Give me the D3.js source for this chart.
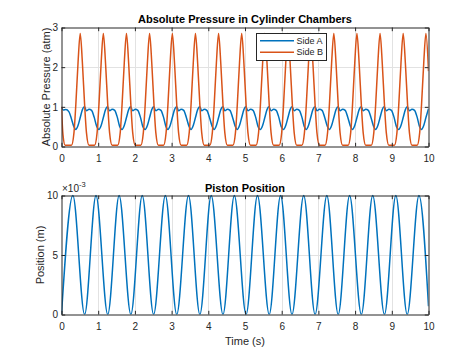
<!DOCTYPE html>
<html><head><meta charset="utf-8">
<script src="https://cdn.jsdelivr.net/npm/d3@7"></script>
<style>
body{margin:0;background:#fff}
text{font-family:"Liberation Sans",Arial,Helvetica,sans-serif}
</style>
</head><body>
<svg id="chart" width="474" height="355"></svg>
<script>
// ---------- data ----------
const timeTicks = [0,1,2,3,4,5,6,7,8,9,10];
const pressureTicks = [0,1,2,3];
const positionTicks = [0,0.005,0.01];
const positionTickLabels = ["0","5","10"];
const seriesNames = ["Side A","Side B"];
const titles = ["Absolute Pressure in Cylinder Chambers","Piston Position"];

const sideATime = [0,0.05,0.12,0.20,0.27,0.33,
0.39,0.45,0.51,0.57,0.625,0.68,0.75,0.82,0.89,0.955,
1.02,1.08,1.14,1.20,1.25,1.31,1.38,1.45,1.52,1.58,
1.65,1.71,1.77,1.83,1.88,1.94,2.01,2.08,2.15,2.21,
2.28,2.34,2.40,2.46,2.51,2.57,2.64,2.71,2.78,2.84,
2.90,2.96,3.02,3.08,3.14,3.19,3.26,3.33,3.40,3.47,
3.53,3.59,3.65,3.71,3.77,3.82,3.89,3.96,4.03,4.10,
4.16,4.22,4.28,4.34,4.40,4.45,4.52,4.59,4.66,4.73,
4.79,4.85,4.91,4.97,5.02,5.08,5.15,5.22,5.29,5.35,
5.42,5.48,5.54,5.60,5.65,5.71,5.78,5.85,5.92,5.98,
6.05,6.11,6.17,6.23,6.28,6.34,6.41,6.48,6.55,6.61,
6.67,6.73,6.79,6.85,6.91,6.96,7.03,7.10,7.17,7.24,
7.30,7.36,7.42,7.48,7.54,7.59,7.66,7.73,7.80,7.87,
7.93,7.99,8.05,8.11,8.17,8.22,8.29,8.36,8.43,8.50,
8.56,8.62,8.68,8.74,8.79,8.85,8.92,8.99,9.06,9.12,
9.19,9.25,9.31,9.37,9.42,9.48,9.55,9.62,9.69,9.75,
9.81,9.87,9.93,10.0];
const sideA = [0.98,0.92,0.93,0.88,0.70,0.52,
0.43,0.53,0.73,0.93,1.00,0.90,0.94,0.91,0.74,0.52,
0.43,0.53,0.73,0.93,1.00,0.90,0.94,0.91,0.74,0.52,
0.43,0.53,0.73,0.93,1.00,0.90,0.94,0.91,0.74,0.52,
0.43,0.53,0.73,0.93,1.00,0.90,0.94,0.91,0.74,0.52,
0.43,0.53,0.73,0.93,1.00,0.90,0.94,0.91,0.74,0.52,
0.43,0.53,0.73,0.93,1.00,0.90,0.94,0.91,0.74,0.52,
0.43,0.53,0.73,0.93,1.00,0.90,0.94,0.91,0.74,0.52,
0.43,0.53,0.73,0.93,1.00,0.90,0.94,0.91,0.74,0.52,
0.43,0.53,0.73,0.93,1.00,0.90,0.94,0.91,0.74,0.52,
0.43,0.53,0.73,0.93,1.00,0.90,0.94,0.91,0.74,0.52,
0.43,0.53,0.73,0.93,1.00,0.90,0.94,0.91,0.74,0.52,
0.43,0.53,0.73,0.93,1.00,0.90,0.94,0.91,0.74,0.52,
0.43,0.53,0.73,0.93,1.00,0.90,0.94,0.91,0.74,0.52,
0.43,0.53,0.73,0.93,1.00,0.90,0.94,0.91,0.74,0.52,
0.43,0.53,0.73,0.93,1.00,0.90,0.94,0.91,0.74,0.52,
0.43,0.53,0.73,0.95];

const sideBTime = [0,0.04,0.10,
0.27,0.34,0.39,0.45,0.51,0.57,0.63,0.68,0.75,
0.90,0.97,1.02,1.08,1.14,1.20,1.26,1.31,1.38,
1.53,1.60,1.65,1.71,1.77,1.83,1.89,1.94,2.01,
2.16,2.23,2.28,2.34,2.40,2.46,2.52,2.57,2.64,
2.78,2.85,2.90,2.96,3.02,3.08,3.14,3.19,3.26,
3.41,3.48,3.53,3.59,3.65,3.71,3.77,3.82,3.89,
4.04,4.11,4.16,4.22,4.28,4.34,4.40,4.45,4.52,
4.67,4.74,4.79,4.85,4.91,4.97,5.03,5.08,5.15,
5.30,5.37,5.42,5.48,5.54,5.60,5.66,5.71,5.78,
5.93,6.00,6.05,6.11,6.17,6.23,6.29,6.34,6.41,
6.55,6.62,6.67,6.73,6.79,6.85,6.91,6.96,7.03,
7.18,7.25,7.30,7.36,7.42,7.48,7.54,7.59,7.66,
7.81,7.88,7.93,7.99,8.05,8.11,8.17,8.22,8.29,
8.44,8.51,8.56,8.62,8.68,8.74,8.80,8.85,8.92,
9.07,9.14,9.19,9.25,9.31,9.37,9.43,9.48,9.55,
9.69,9.76,9.81,9.87,9.93,10.0];
const sideB = [1.00,0.30,0.03,
0.03,0.35,1.05,2.10,2.85,2.10,1.05,0.35,0.03,
0.03,0.35,1.05,2.10,2.85,2.10,1.05,0.35,0.03,
0.03,0.35,1.05,2.10,2.85,2.10,1.05,0.35,0.03,
0.03,0.35,1.05,2.10,2.85,2.10,1.05,0.35,0.03,
0.03,0.35,1.05,2.10,2.85,2.10,1.05,0.35,0.03,
0.03,0.35,1.05,2.10,2.85,2.10,1.05,0.35,0.03,
0.03,0.35,1.05,2.10,2.85,2.10,1.05,0.35,0.03,
0.03,0.35,1.05,2.10,2.85,2.10,1.05,0.35,0.03,
0.03,0.35,1.05,2.10,2.85,2.10,1.05,0.35,0.03,
0.03,0.35,1.05,2.10,2.85,2.10,1.05,0.35,0.03,
0.03,0.35,1.05,2.10,2.85,2.10,1.05,0.35,0.03,
0.03,0.35,1.05,2.10,2.85,2.10,1.05,0.35,0.03,
0.03,0.35,1.05,2.10,2.85,2.10,1.05,0.35,0.03,
0.03,0.35,1.05,2.10,2.85,2.10,1.05,0.35,0.03,
0.03,0.35,1.05,2.10,2.85,2.10,1.05,0.35,0.03,
0.03,0.35,1.05,2.10,2.85,1.90];

const pistonTime = [0,0.31,0.63,0.94,1.26,1.57,1.89,2.20,2.51,2.83,3.14,3.46,3.77,4.08,4.40,4.71,
5.03,5.34,5.66,5.97,6.28,6.60,6.91,7.23,7.54,7.85,8.17,8.48,8.80,9.11,9.42,9.74,10.0];
const piston = [0,0.01,0,0.01,0,0.01,0,0.01,0,0.01,0,0.01,0,0.01,0,0.01,
0,0.01,0,0.01,0,0.01,0,0.01,0,0.01,0,0.01,0,0.01,0,0.01,0.0007];

// ---------- drawing ----------
const svg = d3.select("#chart");
svg.append("rect").attr("width",474).attr("height",355).attr("fill","#fff");
const axisColor = "#262626";
const gridColor = "#e2e2e2";
const colors = ["#0072BD","#D95319"];
const L = 61.5, R = 428.5;
const panels = [
  {top:27.5, bottom:146.5, domain:[0,3], ticks:pressureTicks, labels:pressureTicks.map(String),
   ylabel:"Absolute Pressure (atm)", ylabelX:50, title:titles[0], titleY:23},
  {top:195.5, bottom:314.5, domain:[0,0.01], ticks:positionTicks, labels:positionTickLabels,
   ylabel:"Position (m)", ylabelX:44, title:titles[1], titleY:192}
];
const x = d3.scaleLinear().domain([0,10]).range([L,R]);
const tickLen = 3.7;

panels.forEach((p,i)=>{
  const y = d3.scaleLinear().domain(p.domain).range([p.bottom,p.top]);
  p.y = y;
  const g = svg.append("g");
  // grid
  g.append("g").selectAll("line").data(timeTicks.slice(1,-1)).join("line")
    .attr("x1",d=>Math.round(x(d))+0.5).attr("x2",d=>Math.round(x(d))+0.5)
    .attr("y1",p.top).attr("y2",p.bottom).attr("stroke",gridColor).attr("stroke-width",1);
  g.append("g").selectAll("line").data(p.ticks.slice(1,-1)).join("line")
    .attr("y1",d=>Math.round(y(d))+0.5).attr("y2",d=>Math.round(y(d))+0.5)
    .attr("x1",L).attr("x2",R).attr("stroke",gridColor).attr("stroke-width",1);

  // clip
  const cid = "clip"+i;
  svg.append("clipPath").attr("id",cid).append("rect")
    .attr("x",L).attr("y",p.top-1).attr("width",R-L).attr("height",p.bottom-p.top+1);

  const line = d3.line().x(d=>x(d[0])).y(d=>y(d[1])).curve(d3.curveMonotoneX);
  const series = i===0 ? [d3.zip(sideATime,sideA), d3.zip(sideBTime,sideB)]
                       : [d3.zip(pistonTime,piston)];
  g.append("g").attr("clip-path",`url(#${cid})`).selectAll("path").data(series).join("path")
    .attr("d",line).attr("fill","none").attr("stroke",(d,k)=>colors[k])
    .attr("stroke-width",1.5).attr("stroke-linejoin","round");

  // axes
  const styleAxis = sel => {
    sel.select(".domain").attr("stroke",axisColor).attr("stroke-width",1);
    sel.selectAll(".tick line").attr("stroke",axisColor).attr("stroke-width",1);
    sel.selectAll(".tick text").attr("fill",axisColor).attr("font-size","10px")
      .attr("font-family","'Liberation Sans',Arial,sans-serif");
  };
  g.append("g").attr("transform",`translate(0,${p.bottom})`)
    .call(d3.axisBottom(x).tickValues(timeTicks).tickSizeInner(-tickLen).tickSizeOuter(0).tickPadding(8))
    .call(styleAxis);
  g.append("g").attr("transform",`translate(0,${p.top})`)
    .call(d3.axisTop(x).tickValues(timeTicks).tickSizeInner(-tickLen).tickSizeOuter(0).tickFormat(""))
    .call(styleAxis);
  g.append("g").attr("transform",`translate(${L},0)`)
    .call(d3.axisLeft(y).tickValues(p.ticks).tickFormat((d,k)=>p.labels[k]).tickSizeInner(-tickLen).tickSizeOuter(0).tickPadding(3.5))
    .call(styleAxis);
  g.append("g").attr("transform",`translate(${R},0)`)
    .call(d3.axisRight(y).tickValues(p.ticks).tickSizeInner(-tickLen).tickSizeOuter(0).tickFormat(""))
    .call(styleAxis);

  // title
  svg.append("text").attr("x",(L+R)/2).attr("y",p.titleY).attr("text-anchor","middle")
    .attr("font-size","11px").attr("font-weight","bold").attr("fill","#000").text(p.title);
  // y label
  svg.append("text").attr("transform",`translate(${p.ylabelX},${(p.top+p.bottom)/2}) rotate(-90)`)
    .attr("text-anchor","middle").attr("font-size","11px").attr("fill",axisColor).text(p.ylabel);
});

// exponent label
const ex = svg.append("text").attr("x",62).attr("y",191.5).attr("font-size","10px").attr("fill",axisColor);
ex.append("tspan").text("\u00d710");
ex.append("tspan").attr("dy",-4.5).attr("font-size","7.5px").text("-3");

// x label
svg.append("text").attr("x",(L+R)/2).attr("y",344.5).attr("text-anchor","middle")
  .attr("font-size","11px").attr("fill",axisColor).text("Time (s)");

// legend
const lg = svg.append("g");
lg.append("rect").attr("x",256.5).attr("y",33.5).attr("width",70).attr("height",27)
  .attr("fill","#fff").attr("stroke",axisColor).attr("stroke-width",1);
seriesNames.forEach((n,k)=>{
  const yy = 40.7 + k*11.6;
  lg.append("line").attr("x1",260).attr("x2",294).attr("y1",yy).attr("y2",yy)
    .attr("stroke",colors[k]).attr("stroke-width",1.5);
  lg.append("text").attr("x",296.5).attr("y",yy).attr("dy","0.35em")
    .attr("font-size","9px").attr("fill",axisColor).text(n);
});
</script>
</body></html>
